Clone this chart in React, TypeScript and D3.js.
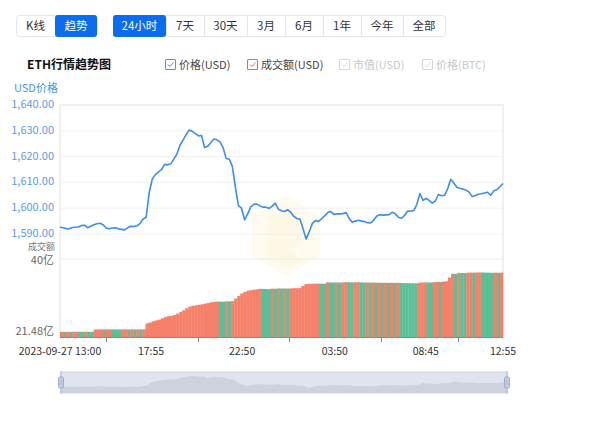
import * as d3 from 'd3';

// ETH 24h price (USD), one reading every ~10 minutes, 13:00 -> 12:55
const priceValues = [
  1592.6, 1592.4, 1592.1, 1592.0, 1592.5, 1592.6, 1592.7, 1593.3, 1593.4, 1592.4,
  1593.0, 1593.6, 1594.0, 1594.2, 1593.6, 1592.3, 1592.0, 1592.3, 1592.4, 1592.0,
  1591.8, 1591.6, 1592.4, 1593.0, 1592.9, 1593.2, 1594.0, 1595.8, 1596.5, 1606.0,
  1611.3, 1613.0, 1614.0, 1615.0, 1617.0, 1616.8, 1617.2, 1619.0, 1621.0, 1624.4,
  1626.4, 1628.5, 1630.3, 1629.8, 1628.9, 1628.0, 1628.2, 1623.5, 1624.0, 1625.4,
  1626.8, 1626.5, 1625.7, 1623.5, 1619.3, 1619.0, 1616.3, 1608.3, 1601.0, 1600.0,
  1595.5, 1597.8, 1600.5, 1601.5, 1601.6, 1600.9, 1600.4, 1600.4, 1599.9, 1600.8,
  1602.0, 1599.6, 1599.0, 1598.7, 1599.4, 1598.5, 1596.8, 1596.0, 1595.8, 1592.0,
  1588.1, 1590.8, 1594.0, 1595.2, 1594.9, 1595.9, 1597.0, 1598.3, 1598.7, 1597.6,
  1597.8, 1597.8, 1597.9, 1598.3, 1596.0, 1594.6, 1595.0, 1595.3, 1595.0, 1594.8,
  1594.4, 1594.3, 1595.4, 1597.0, 1597.5, 1597.3, 1597.4, 1597.5, 1598.4, 1597.8,
  1596.5, 1596.1, 1597.2, 1598.9, 1598.8, 1599.1, 1601.5, 1605.7, 1603.0, 1603.8,
  1603.0, 1602.0, 1602.8, 1605.3, 1604.8, 1605.0, 1607.5, 1611.2, 1609.8, 1608.1,
  1607.7, 1607.4, 1607.0, 1606.2, 1604.5, 1604.9, 1605.4, 1605.6, 1605.9, 1606.2,
  1605.0, 1606.7, 1607.2, 1608.3, 1609.6,
];

// rolling 24h turnover, in 亿 USD
const volumeValues = [
  22.70, 22.68, 22.72, 22.70, 22.73, 22.75, 22.73, 22.72, 22.74, 22.72,
  22.71, 23.25, 23.27, 23.28, 23.26, 23.28, 23.30, 23.29, 23.28, 23.27,
  23.28, 23.29, 23.27, 23.30, 23.28, 23.30, 23.28, 23.32, 24.70, 24.90,
  25.20, 25.40, 25.60, 25.90, 26.20, 26.40, 26.50, 26.70, 27.00, 27.40,
  27.80, 28.30, 28.70, 28.90, 29.00, 29.10, 29.25, 29.40, 29.55, 29.70,
  29.80, 29.90, 29.88, 29.86, 29.95, 29.93, 30.00, 30.60, 31.20, 31.80,
  32.20, 32.45, 32.60, 32.70, 32.80, 32.90, 32.88, 32.86, 32.84, 32.95,
  32.93, 33.00, 32.98, 33.00, 32.98, 33.02, 33.05, 33.08, 33.10, 33.60,
  34.05, 34.10, 34.12, 34.14, 34.16, 34.14, 34.12, 34.45, 34.43, 34.41,
  34.43, 34.41, 34.45, 34.50, 34.48, 34.46, 34.48, 34.50, 34.45, 34.40,
  34.42, 34.38, 34.40, 34.36, 34.38, 34.34, 34.36, 34.32, 34.35, 34.33,
  34.35, 34.31, 34.29, 34.27, 34.25, 34.23, 34.21, 34.35, 34.40, 34.45,
  34.43, 34.41, 34.50, 34.55, 34.53, 34.65, 34.70, 35.60, 36.50, 36.48,
  36.70, 36.68, 36.66, 36.75, 36.78, 36.76, 36.79, 36.80, 36.78, 36.76,
  36.74, 36.72, 36.75, 36.73, 36.76,
];

const xLabels = ['2023-09-27 13:00', '17:55', '22:50', '03:50', '08:45', '12:55'];
const xLabelMinutes = [0, 295, 590, 890, 1185, 1435];
const xTickMinutes = [150, 447, 742, 1039, 1288];
const priceTicks = [1640, 1630, 1620, 1610, 1600, 1590];
const volumeTickLabels = ['40亿', '21.48亿'];
const modeButtons = ['K线', '趋势'];
const rangeButtons = ['24小时', '7天', '30天', '3月', '6月', '1年', '今年', '全部'];
const legendLabels = ['价格(USD)', '成交额(USD)', '市值(USD)', '价格(BTC)'];

const FONT = '"Noto Sans CJK SC", "Noto Sans", sans-serif';
const BLUE = '#0b6cf0';
const LINE = '#3b8ef0';
const RED = '#f47a63';
const GREEN = '#52bd92';

const W = 600;
const H = 433;
const plot = { left: 60, right: 503, top: 105, priceBottom: 234, volTop: 259, bottom: 337 };

function Button({ x0, x1, label, active }: { x0: number; x1: number; label: string; active: boolean }) {
  return (
    <g>
      {active && <rect x={x0} y={15} width={x1 - x0} height={22} rx={3} fill={BLUE} />}
      <text
        x={(x0 + x1) / 2}
        y={30}
        textAnchor="middle"
        fontSize={11.5}
        fontFamily={FONT}
        fill={active ? '#fff' : '#333'}
      >
        {label}
      </text>
    </g>
  );
}

function Check({ x, color, textColor, label }: { x: number; color: string; textColor: string; label: string }) {
  return (
    <g>
      <rect x={x + 0.5} y={59.5} width={10} height={10} rx={1} fill="#fff" stroke={color} strokeWidth={1.1} />
      <path d={`M${x + 3},${64.5} L${x + 5},${66.5} L${x + 8.5},${62.5}`} fill="none" stroke={color} strokeWidth={1} />
      <text x={x + 14} y={68.5} fontSize={11} fontFamily={FONT} fill={textColor}>
        {label}
      </text>
    </g>
  );
}

export default function App() {
  const n = priceValues.length;
  const totalMinutes = 1435;
  const minuteOf = (i: number) => (i * totalMinutes) / (n - 1);

  const x = d3.scaleLinear().domain([0, totalMinutes]).range([plot.left, plot.right]);
  const yPrice = d3.scaleLinear().domain([1590, 1640]).range([plot.priceBottom, plot.top]);
  const yVol = d3.scaleLinear().domain([21.48, 40]).range([plot.bottom, plot.volTop]);
  const band = d3
    .scaleBand<number>()
    .domain(d3.range(volumeValues.length))
    .range([plot.left, plot.right])
    .padding(0);

  const priceLine = d3
    .line<number>()
    .x((_, i) => x(minuteOf(i)))
    .y((d) => yPrice(d))(priceValues);

  // slider (data zoom) with price shadow
  const slider = { left: 61, right: 507, top: 372, bottom: 393 };
  const xs = d3.scaleLinear().domain([0, totalMinutes]).range([slider.left, slider.right]);
  const ys = d3
    .scaleLinear()
    .domain(d3.extent(priceValues) as [number, number])
    .range([slider.bottom - 5, slider.top + 4]);
  const shadow = d3
    .area<number>()
    .x((_, i) => xs(minuteOf(i)))
    .y0(slider.bottom)
    .y1((d) => ys(d))(priceValues);

  const modeEdges = [16, 55, 97];
  const rangeEdges = [113, 166, 204, 247, 285, 323, 361, 403, 445];
  const legendX = [165, 247, 339, 422];
  const legendColors = ['#4d94f0', '#f0664a', '#d8d8d8', '#d8d8d8'];
  const legendText = ['#444', '#444', '#c8c8c8', '#c8c8c8'];

  return (
    <svg
      width={W}
      height={H}
      style={{ position: 'absolute', left: 0, top: 0, display: 'block', background: '#fff' }}
    >
      {/* button groups */}
      <rect x={16.5} y={15.5} width={81} height={21} rx={3} fill="#fff" stroke="#e3e6eb" />
      {modeButtons.map((b, i) => (
        <Button key={b} x0={modeEdges[i]} x1={modeEdges[i + 1]} label={b} active={i === 1} />
      ))}
      <rect x={113.5} y={15.5} width={332} height={21} rx={3} fill="#fff" stroke="#e3e6eb" />
      {rangeEdges.slice(1, -1).map((e) => (
        <line key={e} x1={e + 0.5} x2={e + 0.5} y1={15.5} y2={36.5} stroke="#e3e6eb" />
      ))}
      {rangeButtons.map((b, i) => (
        <Button key={b} x0={rangeEdges[i]} x1={rangeEdges[i + 1]} label={b} active={i === 0} />
      ))}

      {/* title + legend */}
      <text x={27} y={69} fontSize={12} fontWeight="bold" fontFamily={FONT} fill="#111">
        ETH行情趋势图
      </text>
      {legendLabels.map((l, i) => (
        <Check key={l} x={legendX[i]} color={legendColors[i]} textColor={legendText[i]} label={l} />
      ))}

      <text x={14} y={92} fontSize={11} fontFamily={FONT} fill="#4a92ea">
        USD价格
      </text>

      {/* watermark */}
      <g opacity={0.35}>
        <path d="M286,196 L320,216 L320,256 L286,276 L252,256 L252,216 Z" fill="#fdf3cf" />
        <path d="M268,218 L286,208 L306,220 L306,240 L290,250 L306,262 L286,268 L268,258 Z" fill="#fae7a0" opacity={0.5} />
      </g>

      {/* price gridlines */}
      {priceTicks.slice(1).map((t) => (
        <line key={t} x1={plot.left} x2={plot.right} y1={yPrice(t)} y2={yPrice(t)} stroke="#f2f2f2" />
      ))}
      <line x1={plot.left} x2={plot.right} y1={plot.volTop} y2={plot.volTop} stroke="#ececec" />

      {/* frame */}
      <rect
        x={plot.left}
        y={plot.top}
        width={plot.right - plot.left}
        height={plot.bottom - plot.top}
        fill="none"
        stroke="#ececec"
        strokeWidth={1.5}
      />

      {/* volume bars */}
      {volumeValues.map((v, i) => {
        const up = i === 0 || v >= volumeValues[i - 1];
        return (
          <rect
            key={i}
            x={band(i)!}
            y={yVol(v)}
            width={band.bandwidth() + 0.3}
            height={plot.bottom - yVol(v)}
            fill={up ? RED : GREEN}
            opacity={0.95}
          />
        );
      })}

      {/* price line */}
      <path d={priceLine ?? ''} fill="none" stroke={LINE} strokeWidth={1.6} strokeLinejoin="round" />

      {/* price axis labels */}
      {priceTicks.map((t) => (
        <text
          key={t}
          x={54}
          y={yPrice(t) + 3}
          textAnchor="end"
          fontSize={11}
          fontFamily={FONT}
          fill="#5b9ceb"
        >
          {d3.format(',.2f')(t)}
        </text>
      ))}

      {/* volume axis labels */}
      <text x={55} y={249.5} textAnchor="end" fontSize={9} fontFamily={FONT} fill="#777">
        成交额
      </text>
      <text x={54} y={yVol(40) + 5} textAnchor="end" fontSize={11} fontFamily={FONT} fill="#666">
        {volumeTickLabels[0]}
      </text>
      <text x={54} y={335} textAnchor="end" fontSize={11} fontFamily={FONT} fill="#666">
        {volumeTickLabels[1]}
      </text>

      {/* x axis */}
      <line x1={plot.left} x2={plot.right} y1={plot.bottom + 0.5} y2={plot.bottom + 0.5} stroke="#888" />
      {xTickMinutes.map((m) => (
        <line
          key={m}
          x1={Math.round(x(m)) + 0.5}
          x2={Math.round(x(m)) + 0.5}
          y1={plot.bottom}
          y2={plot.bottom + 5}
          stroke="#888"
        />
      ))}
      {xLabels.map((l, i) => (
        <text
          key={l}
          x={x(xLabelMinutes[i])}
          y={355}
          textAnchor="middle"
          fontSize={10.5}
          fontFamily={FONT}
          fill="#333"
        >
          {l}
        </text>
      ))}

      {/* data zoom slider */}
      <rect
        x={slider.left}
        y={slider.top}
        width={slider.right - slider.left}
        height={slider.bottom - slider.top}
        fill="#dfe5ee"
        stroke="#cfd6e1"
      />
      <path d={shadow ?? ''} fill="#ccd3dd" />
      {[slider.left, slider.right].map((hx) => (
        <g key={hx}>
          <line x1={hx} x2={hx} y1={slider.top - 1} y2={slider.bottom + 1} stroke="#a9b8cf" />
          <rect x={hx - 2.5} y={377} width={5} height={11} rx={1.5} fill="#c3cde0" stroke="#8fa1bd" strokeWidth={0.8} />
          <line x1={hx - 1.2} x2={hx + 1.2} y1={381} y2={381} stroke="#8fa1bd" strokeWidth={0.6} />
          <line x1={hx - 1.2} x2={hx + 1.2} y1={384} y2={384} stroke="#8fa1bd" strokeWidth={0.6} />
        </g>
      ))}
    </svg>
  );
}
